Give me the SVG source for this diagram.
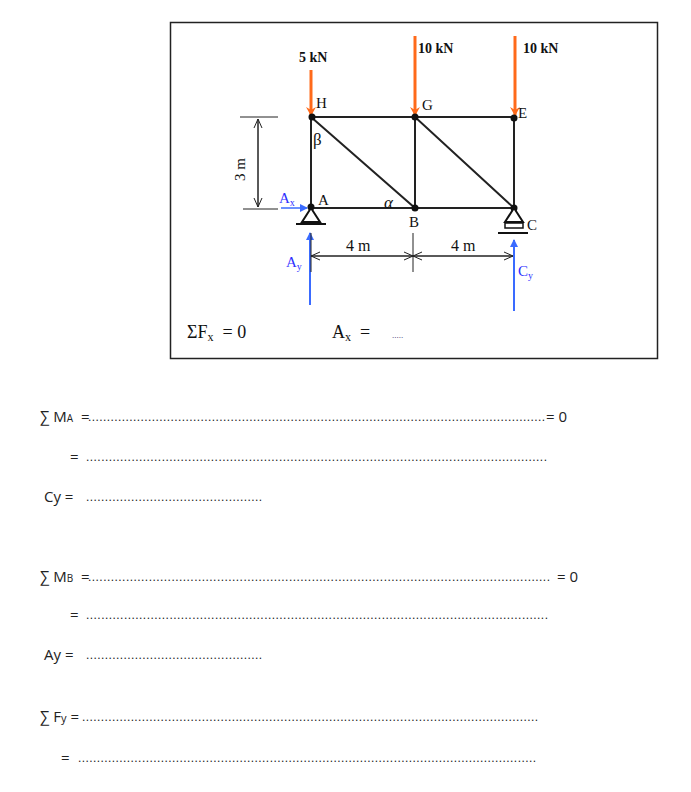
<svg xmlns="http://www.w3.org/2000/svg" width="691" height="792" viewBox="0 0 691 792">
<style>
.m{stroke:#222;stroke-width:2;fill:none}
.t{font-family:"Liberation Serif",serif;font-size:15px;fill:#111}
.b{font-family:"Liberation Serif",serif;font-size:14px;font-weight:bold;fill:#111}
.bl{font-family:"Liberation Serif",serif;font-size:15px;fill:#3030ff}
.c{font-family:"Open Sans","Liberation Sans",sans-serif;font-size:15px;fill:#222}
.d{font-family:"Liberation Sans",sans-serif;font-size:12px;fill:#222}
.thin{stroke:#222;stroke-width:1;fill:none}
</style>
<defs>
<marker id="oa" markerWidth="10" markerHeight="10" refX="8" refY="5" orient="auto" markerUnits="userSpaceOnUse"><path d="M0,0 L9,5 L0,10 L3,5 Z" fill="#ff6a1a"/></marker>
<marker id="ba" markerWidth="8" markerHeight="8" refX="7" refY="4" orient="auto" markerUnits="userSpaceOnUse"><path d="M0,0 L8,4 L0,8 Z" fill="#3a6bff"/></marker>
<marker id="ka" markerWidth="10" markerHeight="10" refX="9" refY="5" orient="auto" markerUnits="userSpaceOnUse"><path d="M0,1 L9,5 L0,9" fill="none" stroke="#222" stroke-width="1"/></marker>
</defs>
<rect x="170.5" y="22.5" width="487" height="336" fill="#fff" stroke="#222" stroke-width="1.5"/>
<g id="connectors">
<path class="m" d="M311,117 H514 V208 H311 Z M311,117 L415,208 V117 L514,208"/>
<line x1="311" y1="70" x2="311" y2="115" stroke="#ff6a1a" stroke-width="3" marker-end="url(#oa)"/>
<line x1="415" y1="36" x2="415" y2="115" stroke="#ff6a1a" stroke-width="3" marker-end="url(#oa)"/>
<line x1="515" y1="36" x2="515" y2="115" stroke="#ff6a1a" stroke-width="3" marker-end="url(#oa)"/>
<line x1="281" y1="208" x2="307" y2="208" stroke="#3a6bff" stroke-width="1.5" marker-end="url(#ba)"/>
<line x1="310" y1="305" x2="310" y2="233" stroke="#3a6bff" stroke-width="2" marker-end="url(#ba)"/>
<line x1="514" y1="311" x2="514" y2="240" stroke="#3a6bff" stroke-width="2" marker-end="url(#ba)"/>
<path class="thin" d="M240,117 H278 M243,209 H278 M311,233 V272 M413,233 V272"/>
<line class="thin" x1="258" y1="119" x2="258" y2="207" marker-end="url(#ka)"/>
<line class="thin" x1="258" y1="207" x2="258" y2="119" marker-end="url(#ka)"/>
<line class="thin" x1="311" y1="256" x2="413" y2="256" marker-end="url(#ka)"/>
<line class="thin" x1="413" y1="256" x2="311" y2="256" marker-end="url(#ka)"/>
<line class="thin" x1="413" y1="256" x2="513" y2="256" marker-end="url(#ka)"/>
<line class="thin" x1="513" y1="256" x2="413" y2="256" marker-end="url(#ka)"/>
</g>
<g id="H"><circle cx="312" cy="117" r="3.5" fill="#111"/><text class="t" x="316" y="108">H</text><text class="t" x="313" y="145" style="font-size:17px">β</text></g>
<g id="G"><circle cx="415" cy="117" r="3.5" fill="#111"/><text class="t" x="422" y="110">G</text></g>
<g id="E"><circle cx="514" cy="118" r="3.5" fill="#111"/><text class="t" x="518" y="118">E</text></g>
<g id="A"><circle cx="311" cy="207" r="3.5" fill="#111"/><text class="t" x="318" y="205">A</text>
<path d="M311,208 L302,222 H320 Z" fill="#fff" stroke="#111" stroke-width="2"/><line x1="296" y1="224" x2="326" y2="224" stroke="#111" stroke-width="2"/></g>
<g id="B"><circle cx="415" cy="208" r="3.5" fill="#111"/><text class="t" x="409" y="227">B</text><text class="t" x="384" y="208" style="font-size:17px;font-style:italic">α</text></g>
<g id="C"><circle cx="514" cy="208" r="3.5" fill="#111"/><text class="t" x="527" y="230">C</text>
<path d="M514,208 L505,222 H523 Z" fill="#fff" stroke="#111" stroke-width="2"/><rect x="505" y="223" width="18" height="5" fill="#fff" stroke="#111" stroke-width="1.5"/><line x1="498" y1="233" x2="528" y2="233" stroke="#111" stroke-width="2"/></g>
<text class="b" x="299" y="62">5 kN</text>
<text class="b" x="418" y="53">10 kN</text>
<text class="b" x="523" y="53">10 kN</text>
<text class="t" x="245" y="181" transform="rotate(-90 245 181)" style="font-size:15px">3 m</text>
<text class="t" x="346" y="251" style="font-size:16px">4 m</text>
<text class="t" x="451" y="251" style="font-size:16px">4 m</text>
<text class="bl" x="279" y="203">A<tspan style="font-size:10px" dy="3">x</tspan></text>
<text class="bl" x="286" y="267">A<tspan style="font-size:10px" dy="3">y</tspan></text>
<text class="bl" x="518" y="276">C<tspan style="font-size:10px" dy="3">y</tspan></text>
<text class="t" x="187" y="338" style="font-size:18px;white-space:pre" xml:space="preserve">ΣF<tspan style="font-size:12px" dy="3">x</tspan><tspan dy="-3">  = 0</tspan></text>
<text class="t" x="332" y="338" style="font-size:18px;white-space:pre" xml:space="preserve">A<tspan style="font-size:12px" dy="3">x</tspan><tspan dy="-3">  =</tspan></text>
<text class="t" x="392" y="338" style="font-size:9px;fill:#3a2a6a">.....</text>
<g class="c">
<text x="40" y="422" xml:space="preserve">∑ M<tspan style="font-size:10px">A</tspan>  =</text>
<text class="d" x="88" y="421" textLength="457" lengthAdjust="spacing">..........................................................................................................................</text>
<text x="546" y="422">= 0</text>
<text x="70" y="462">=</text>
<text class="d" x="86" y="461" textLength="461" lengthAdjust="spacing">..........................................................................................................................</text>
<text x="44" y="502">Cy =</text>
<text class="d" x="86" y="501" textLength="176" lengthAdjust="spacing">...............................................</text>
<text x="40" y="582" xml:space="preserve">∑ M<tspan style="font-size:10px">B</tspan>  =</text>
<text class="d" x="88" y="581" textLength="462" lengthAdjust="spacing">..........................................................................................................................</text>
<text x="557" y="582">= 0</text>
<text x="70" y="620">=</text>
<text class="d" x="86" y="619" textLength="462" lengthAdjust="spacing">..........................................................................................................................</text>
<text x="44" y="660">Ay =</text>
<text class="d" x="86" y="659" textLength="176" lengthAdjust="spacing">...............................................</text>
<text x="40" y="722">∑ F<tspan style="font-size:11px">y</tspan> =</text>
<text class="d" x="82" y="721" textLength="456" lengthAdjust="spacing">..........................................................................................................................</text>
<text x="61" y="763">=</text>
<text class="d" x="78" y="762" textLength="458" lengthAdjust="spacing">..........................................................................................................................</text>
</g>
</svg>
